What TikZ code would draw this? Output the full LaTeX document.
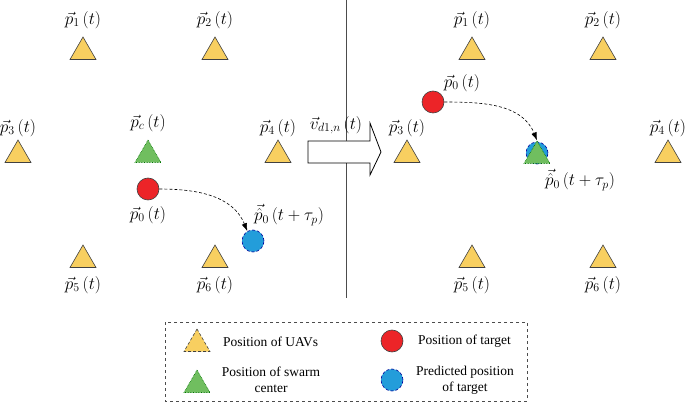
\documentclass[tikz,border=0pt]{standalone}
\usepackage{amsmath}
\usepackage{fontspec}
\setmainfont{Liberation Serif}
\usetikzlibrary{arrows.meta,shapes.geometric}
\definecolor{uavyellow}{RGB}{248,207,96}
\definecolor{swarmgreen}{RGB}{112,190,95}
\definecolor{targetred}{RGB}{236,36,40}
\definecolor{predblue}{RGB}{35,157,218}
\tikzset{
  uav/.style={regular polygon, regular polygon sides=3, minimum size=30pt, inner sep=0pt, draw=black!75, line width=0.6pt, fill=uavyellow},
  swarm/.style={uav, draw=green!45!black, fill=swarmgreen, densely dotted},
  target/.style={circle, minimum size=22pt, inner sep=0pt, draw=black!75, line width=0.6pt, fill=targetred},
  predicted/.style={target, draw=blue!60!black, fill=predblue, densely dashed},
  poslabel/.style={inner sep=0pt, font=\fontsize{16.5}{19}\selectfont},
  legtext/.style={inner sep=0pt, align=center, font=\fontsize{13.5}{16}\selectfont},
  track/.style={densely dashed, line width=0.6pt, -{Latex[length=8pt,width=5.5pt]}}
}
\begin{document}
\begin{tikzpicture}[x=1pt, y=-1pt]
  \useasboundingbox (0,0) rectangle (685,403);

  % divider and transition arrow
  \draw[line width=0.6pt, black!70] (346,0) -- (346,298);
  \draw[line width=0.8pt, fill=white] (308,141) -- (370,141) -- (370,123) -- (381,152) -- (370,175) -- (370,163) -- (308,163) -- cycle;
  \node[poslabel] (vd) at (336,125) {$\vec{v}_{d1,n}\left(t\right)$};

  % left: current formation
  \node[uav] (a1) at (83,52) {};
  \node[uav] (a2) at (215,52) {};
  \node[uav] (a3) at (18,155) {};
  \node[swarm] (ac) at (148,155) {};
  \node[uav] (a4) at (278,155) {};
  \node[uav] (a5) at (83,260) {};
  \node[uav] (a6) at (215,260) {};
  \node[target] (ar) at (148,189) {};
  \node[predicted] (ab) at (253,241) {};

  \node[poslabel] (la1) at (83,20) {$\vec{p}_1\left(t\right)$};
  \node[poslabel] (la2) at (215,20) {$\vec{p}_2\left(t\right)$};
  \node[poslabel] (la3) at (18,128) {$\vec{p}_3\left(t\right)$};
  \node[poslabel] (lac) at (148,123) {$\vec{p}_c\left(t\right)$};
  \node[poslabel] (la4) at (278,128) {$\vec{p}_4\left(t\right)$};
  \node[poslabel] (la5) at (83,285) {$\vec{p}_5\left(t\right)$};
  \node[poslabel] (la6) at (215,285) {$\vec{p}_6\left(t\right)$};
  \node[poslabel] (lar) at (148,215) {$\vec{p}_0\left(t\right)$};
  \node[poslabel] (lab) at (289,215) {$\vec{\hat{p}}_0\left(t+\tau_p\right)$};

  \draw[track] (ar.east) to[out=0, in=112] (ab.120);

  % right: shifted formation
  \node[uav] (b1) at (472,52) {};
  \node[uav] (b2) at (603,52) {};
  \node[uav] (b3) at (407,155) {};
  \node[uav] (b4) at (668,155) {};
  \node[uav] (b5) at (472,260) {};
  \node[uav] (b6) at (603,260) {};
  \node[target] (br) at (433,102) {};
  \node[predicted] (bb) at (537,153) {};
  \node[swarm] (bc) at (537,156) {};

  \node[poslabel] (lb1) at (472,20) {$\vec{p}_1\left(t\right)$};
  \node[poslabel] (lb2) at (603,20) {$\vec{p}_2\left(t\right)$};
  \node[poslabel] (lb3) at (407,128) {$\vec{p}_3\left(t\right)$};
  \node[poslabel] (lb4) at (668,128) {$\vec{p}_4\left(t\right)$};
  \node[poslabel] (lb5) at (472,285) {$\vec{p}_5\left(t\right)$};
  \node[poslabel] (lb6) at (603,285) {$\vec{p}_6\left(t\right)$};
  \node[poslabel] (lbr) at (462,83) {$\vec{p}_0\left(t\right)$};
  \node[poslabel] (lbb) at (580,180) {$\vec{\hat{p}}_0\left(t+\tau_p\right)$};

  \draw[track] (br.east) to[out=0, in=112] (bc.north);

  % legend
  \draw[dashed, line width=0.6pt, black!70] (165,322) rectangle (527,401);
  \node[uav, densely dashed] (kuav) at (197,344) {};
  \node[swarm] (kswarm) at (197,385) {};
  \node[target] (ktarget) at (392,341) {};
  \node[predicted] (kpred) at (392,380) {};
  \node[legtext, anchor=west] (tuav) at (223,342) {Position of UAVs};
  \node[legtext] (tswarm) at (271,380) {Position of swarm\\center};
  \node[legtext, anchor=west] (ttarget) at (418,341) {Position of target};
  \node[legtext] (tpred) at (465,380) {Predicted position\\of target};
\end{tikzpicture}
\end{document}
